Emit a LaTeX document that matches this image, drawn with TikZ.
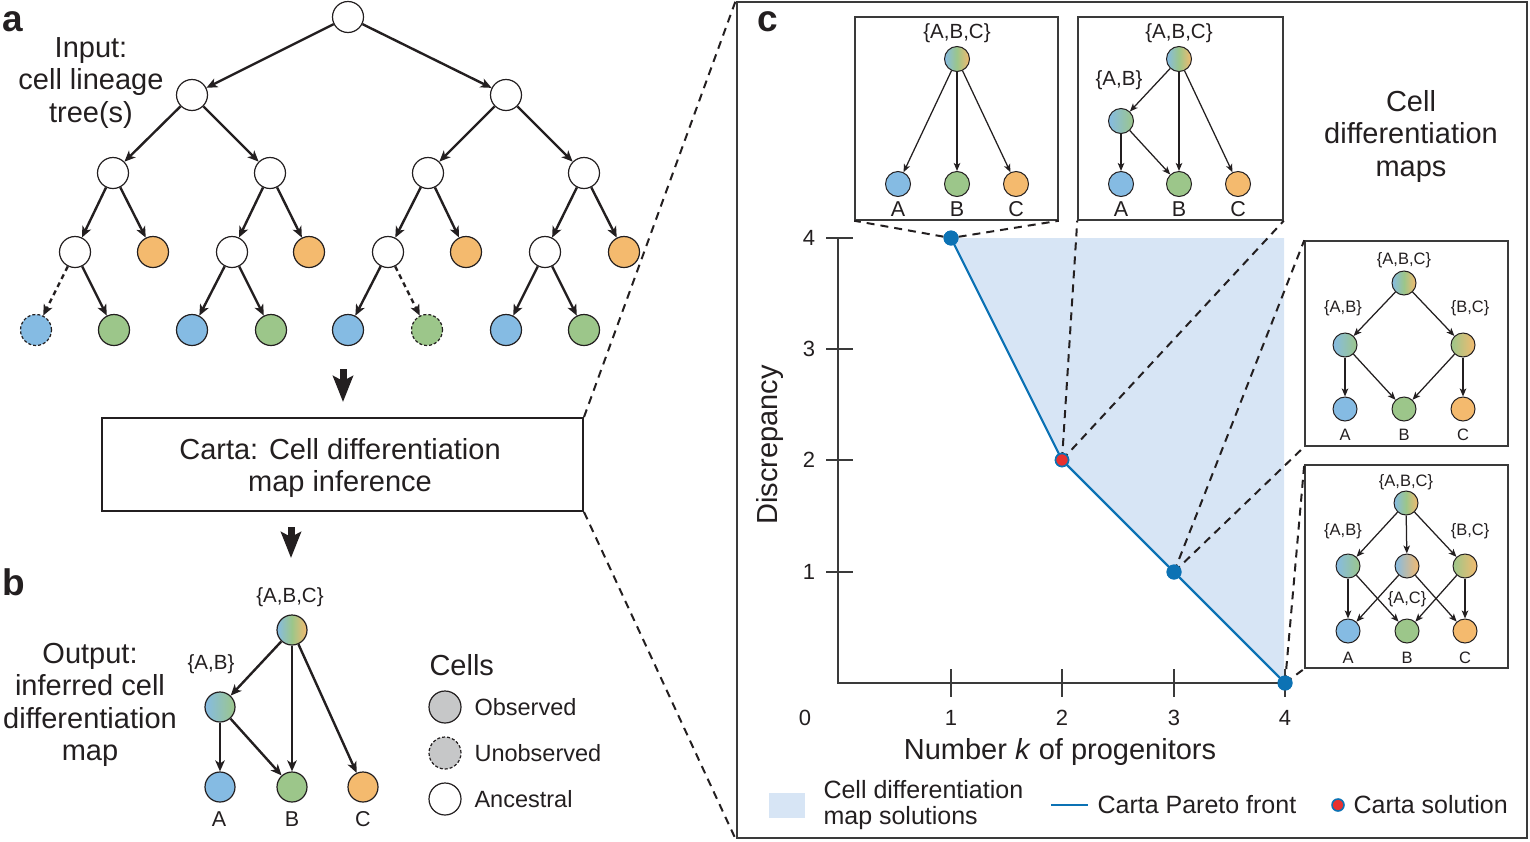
\documentclass[tikz,border=0pt]{standalone}
\usepackage{fontspec}
\setmainfont{Liberation Sans}
\usetikzlibrary{arrows.meta}
\definecolor{dark}{HTML}{231F20}
\definecolor{frame}{HTML}{3A3A3A}
\definecolor{cblue}{HTML}{85BBE3}
\definecolor{cgreen}{HTML}{9CC68A}
\definecolor{corange}{HTML}{F4BA6E}
\definecolor{cgray}{HTML}{C6C7C8}
\definecolor{shadeblue}{HTML}{D7E5F5}
\definecolor{pblue}{HTML}{0C72B4}
\definecolor{pred}{HTML}{E8312F}
\begin{document}
\begin{tikzpicture}[x=1pt,y=-1pt,
  every node/.style={text=dark},
  cnode/.style={circle, draw=dark, line width=1.2pt, inner sep=0pt, minimum size=31pt},
  mid/.style={cnode, minimum size=30pt},
  sm/.style={cnode, minimum size=25pt, line width=1pt},
  xs/.style={cnode, minimum size=24pt, line width=1pt},
  anc/.style={fill=white},
  cb/.style={fill=cblue},
  cg/.style={fill=cgreen},
  co/.style={fill=corange},
  gABC/.style={left color=cblue, right color=corange, middle color=cgreen},
  gAB/.style={left color=cblue, right color=cgreen},
  gBC/.style={left color=cgreen, right color=corange},
  gAC/.style={left color=cblue, right color=corange},
  unob/.style={dash pattern=on 3pt off 2pt},
  tarr/.style={draw=dark, line width=2.4pt, -{Stealth[length=11pt,width=9.5pt,inset=3pt]}},
  tdash/.style={tarr, dash pattern=on 5pt off 4pt},
  iarr/.style={draw=dark, line width=1.25pt, -{Stealth[length=8pt,width=6.5pt,inset=2pt]}},
  bigarrow/.style={draw=dark, line width=7pt, -{Stealth[length=26pt,width=20pt,inset=5pt]}},
  conn/.style={draw=dark, line width=2pt, dash pattern=on 8pt off 6pt},
  inset/.style={draw=frame, line width=1.5pt, fill=white, minimum width=203pt, minimum height=203pt, inner sep=0pt},
  plab/.style={font=\fontsize{37}{37}\selectfont\bfseries},
  ft27/.style={font=\fontsize{29}{32.5}\selectfont, align=center},
  ft24/.style={font=\fontsize{25}{26}\selectfont},
  ft23/.style={font=\fontsize{23.5}{26}\selectfont},
  ft20/.style={font=\fontsize{20.5}{22}\selectfont},
  ftt/.style={font=\fontsize{22}{22}\selectfont},
  ft21/.style={font=\fontsize{21.5}{22}\selectfont},
  ft16/.style={font=\fontsize{16.5}{18}\selectfont},
  pdot/.style={circle, fill=pblue, inner sep=0pt, minimum size=15pt},
]
\useasboundingbox (0,0) rectangle (1530,841);

%================ panel a ================
\node[plab] at (13,22) {a};
\node[ft27] at (91,83) {Input:\\cell lineage\\tree(s)};

\node[cnode,anc] (r) at (348,17) {};
\node[cnode,anc] (l1a) at (192,95) {};
\node[cnode,anc] (l1b) at (506,95) {};
\node[cnode,anc] (l2a) at (113,173) {};
\node[cnode,anc] (l2b) at (270,173) {};
\node[cnode,anc] (l2c) at (428,173) {};
\node[cnode,anc] (l2d) at (584,173) {};
\node[cnode,anc] (l3a) at (75,252) {};
\node[cnode,co]  (l3b) at (153,252) {};
\node[cnode,anc] (l3c) at (232,252) {};
\node[cnode,co]  (l3d) at (309,252) {};
\node[cnode,anc] (l3e) at (388,252) {};
\node[cnode,co]  (l3f) at (466,252) {};
\node[cnode,anc] (l3g) at (545,252) {};
\node[cnode,co]  (l3h) at (624,252) {};
\node[cnode,cb,unob] (l4a) at (36,330) {};
\node[cnode,cg]  (l4b) at (114,330) {};
\node[cnode,cb]  (l4c) at (192,330) {};
\node[cnode,cg]  (l4d) at (271,330) {};
\node[cnode,cb]  (l4e) at (348,330) {};
\node[cnode,cg,unob] (l4f) at (427,330) {};
\node[cnode,cb]  (l4g) at (506,330) {};
\node[cnode,cg]  (l4h) at (584,330) {};

\draw[tarr] (r) -- (l1a);
\draw[tarr] (r) -- (l1b);
\draw[tarr] (l1a) -- (l2a);
\draw[tarr] (l1a) -- (l2b);
\draw[tarr] (l1b) -- (l2c);
\draw[tarr] (l1b) -- (l2d);
\draw[tarr] (l2a) -- (l3a);
\draw[tarr] (l2a) -- (l3b);
\draw[tarr] (l2b) -- (l3c);
\draw[tarr] (l2b) -- (l3d);
\draw[tarr] (l2c) -- (l3e);
\draw[tarr] (l2c) -- (l3f);
\draw[tarr] (l2d) -- (l3g);
\draw[tarr] (l2d) -- (l3h);
\draw[tdash] (l3a) -- (l4a);
\draw[tarr] (l3a) -- (l4b);
\draw[tarr] (l3c) -- (l4c);
\draw[tarr] (l3c) -- (l4d);
\draw[tarr] (l3e) -- (l4e);
\draw[tdash] (l3e) -- (l4f);
\draw[tarr] (l3g) -- (l4g);
\draw[tarr] (l3g) -- (l4h);

% big arrows and Carta box
\coordinate (d1s) at (343,369);
\coordinate (d1e) at (343,402);
\draw[bigarrow] (d1s) -- (d1e);
\node[draw=dark, line width=2pt, minimum width=481pt, minimum height=93pt, inner sep=0pt] (carta) at (342.5,464.5) {};
\node[ft27] at (340,468) {Carta: Cell differentiation\\map inference};
\coordinate (d2s) at (291,527);
\coordinate (d2e) at (291,558);
\draw[bigarrow] (d2s) -- (d2e);

%================ panel b ================
\node[plab] at (14,582) {b};
\node[ft27] at (90,705) {Output:\\inferred cell\\differentiation\\map};

\node[mid,gABC] (bR) at (292,630) {};
\node[mid,gAB] (bAB) at (220,707) {};
\node[mid,cb] (bA) at (220,787) {};
\node[mid,cg] (bB) at (292,787) {};
\node[mid,co] (bC) at (363,787) {};
\node[ft20] at (290,597) {\{A,B,C\}};
\node[ft20] at (211,664) {\{A,B\}};
\node[ft21] at (219,819) {A};
\node[ft21] at (292,819) {B};
\node[ft21] at (363,819) {C};
\draw[tarr] (bR) -- (bAB);
\draw[tarr] (bR) -- (bB);
\draw[tarr] (bR) -- (bC);
\draw[tarr] (bAB) -- (bA);
\draw[tarr] (bAB) -- (bB);

% legend
\node[ft27, anchor=west] at (426,665) {Cells};
\node[cnode, minimum size=32pt, fill=cgray] (ob) at (445,707) {};
\node[cnode, minimum size=32pt, fill=cgray, unob] (un) at (445,753) {};
\node[cnode, minimum size=32pt, fill=white] (an) at (445,799) {};
\node[ft23, anchor=west] at (471,707) {Observed};
\node[ft23, anchor=west] at (471,753) {Unobserved};
\node[ft23, anchor=west] at (471,799) {Ancestral};

%================ panel c ================
\node[draw=frame, line width=2.6pt, minimum width=790pt, minimum height=836pt, inner sep=0pt] (framec) at (1132,420) {};
\draw[conn] (carta.north east) -- (framec.north west);
\draw[conn] (carta.south east) -- (framec.south west);
\node[plab] at (768,22) {c};

% shaded region
\fill[shadeblue] (951,238) -- (1284,238) -- (1284,683) -- (1174,572) -- (1062,460) -- cycle;

% insets (nodes for frames)
\node[inset] (m1) at (956.5,118.5) {};
\node[inset, minimum width=205pt] (m2) at (1180.5,118.5) {};
\node[inset, minimum height=205pt] (m3) at (1406.5,343.5) {};
\node[inset] (m4) at (1406.5,566.5) {};

% Pareto points
\node[pdot] (p1) at (951,238) {};
\node[pdot, fill=pred, draw=pblue, line width=1.6pt, minimum size=13pt] (p2) at (1062,460) {};
\node[pdot] (p3) at (1174,572) {};
\node[pdot] (p4) at (1285,683) {};

% dashed connectors
\draw[conn] (p1) -- (m1.south west);
\draw[conn] (p1) -- (m1.south east);
\draw[conn] (p2.center) -- (m2.south west);
\draw[conn] (p2.center) -- (m2.south east);
\draw[conn] (p3.center) -- (m3.north west);
\draw[conn] (p3.center) -- (m3.south west);
\draw[conn] (p4.center) -- (m4.north west);
\draw[conn] (p4.center) -- (m4.south west);

% axes
\draw[draw=frame, line width=1.6pt] (838,238) -- (838,683) -- (1285,683);
\foreach \yy/\lab in {238/4,349/3,460/2,572/1}{
  \draw[draw=frame, line width=1.6pt] (826,\yy) -- (853,\yy);
  \node[ftt] at (809,\yy) {\lab};
}
\foreach \xx/\lab in {951/1,1062/2,1174/3,1285/4}{
  \draw[draw=frame, line width=1.6pt] (\xx,669) -- (\xx,697);
  \node[ftt] at (\xx,718) {\lab};
}
\node[ftt] at (805,718) {0};
\node[ft27, rotate=90] at (770,445) {Discrepancy};
\node[ft27] at (1060,752) {Number \textit{k} of progenitors};

% Pareto front
\draw[pblue, line width=2.2pt] (p1.center) -- (p2.center) -- (p3.center) -- (p4.center);
\node[pdot] at (p1) {};
\node[pdot, fill=pred, draw=pblue, line width=1.6pt, minimum size=13pt] at (p2) {};
\node[pdot] at (p3) {};
\node[pdot] at (p4) {};

\node[ft27] at (1411,136) {Cell\\differentiation\\maps};

% inset 1
\node[sm,gABC] (aR) at (957,59) {};
\node[sm,cb] (aA) at (898,184) {};
\node[sm,cg] (aB) at (957,184) {};
\node[sm,co] (aC) at (1016,184) {};
\node[ft20] at (957,33) {\{A,B,C\}};
\node[ft21] at (898,209) {A};
\node[ft21] at (957,209) {B};
\node[ft21] at (1016,209) {C};
\draw[iarr] (aR) -- (aA);
\draw[iarr] (aR) -- (aB);
\draw[iarr] (aR) -- (aC);

% inset 2
\node[sm,gABC] (cR) at (1179,59) {};
\node[sm,gAB] (cAB) at (1121,121) {};
\node[sm,cb] (cA) at (1121,184) {};
\node[sm,cg] (cB) at (1179,184) {};
\node[sm,co] (cC) at (1238,184) {};
\node[ft20] at (1179,33) {\{A,B,C\}};
\node[ft20] at (1119,80) {\{A,B\}};
\node[ft21] at (1121,209) {A};
\node[ft21] at (1179,209) {B};
\node[ft21] at (1238,209) {C};
\draw[iarr] (cR) -- (cAB);
\draw[iarr] (cR) -- (cB);
\draw[iarr] (cR) -- (cC);
\draw[iarr] (cAB) -- (cA);
\draw[iarr] (cAB) -- (cB);

% inset 3
\node[xs,gABC] (eR) at (1404,283) {};
\node[xs,gAB] (eAB) at (1345,345) {};
\node[xs,gBC] (eBC) at (1463,345) {};
\node[xs,cb] (eA) at (1345,409) {};
\node[xs,cg] (eB) at (1404,409) {};
\node[xs,co] (eC) at (1463,409) {};
\node[ft16] at (1404,260) {\{A,B,C\}};
\node[ft16] at (1343,308) {\{A,B\}};
\node[ft16] at (1470,308) {\{B,C\}};
\node[ft16] at (1345,435) {A};
\node[ft16] at (1404,435) {B};
\node[ft16] at (1463,435) {C};
\draw[iarr] (eR) -- (eAB);
\draw[iarr] (eR) -- (eBC);
\draw[iarr] (eAB) -- (eA);
\draw[iarr] (eAB) -- (eB);
\draw[iarr] (eBC) -- (eB);
\draw[iarr] (eBC) -- (eC);

% inset 4
\node[xs,gABC] (fR) at (1406,503) {};
\node[xs,gAB] (fAB) at (1348,566) {};
\node[xs,gAC] (fAC) at (1407,566) {};
\node[xs,gBC] (fBC) at (1465,566) {};
\node[xs,cb] (fA) at (1348,631) {};
\node[xs,cg] (fB) at (1407,631) {};
\node[xs,co] (fC) at (1465,631) {};
\node[ft16] at (1406,482) {\{A,B,C\}};
\node[ft16] at (1343,531) {\{A,B\}};
\node[ft16] at (1470,531) {\{B,C\}};
\node[ft16] at (1407,599) {\{A,C\}};
\node[ft16] at (1348,658) {A};
\node[ft16] at (1407,658) {B};
\node[ft16] at (1465,658) {C};
\draw[iarr] (fR) -- (fAB);
\draw[iarr] (fR) -- (fAC);
\draw[iarr] (fR) -- (fBC);
\draw[iarr] (fAB) -- (fA);
\draw[iarr] (fAB) -- (fB);
\draw[iarr] (fAC) -- (fA);
\draw[iarr] (fAC) -- (fC);
\draw[iarr] (fBC) -- (fB);
\draw[iarr] (fBC) -- (fC);

% legend
\fill[shadeblue] (769,793) rectangle (805,818);
\node[ft24, anchor=west, align=left] at (820,805) {Cell differentiation\\map solutions};
\coordinate (lg1) at (1051,805);
\coordinate (lg2) at (1088,805);
\draw[pblue, line width=2pt] (lg1) -- (lg2);
\node[ft24, anchor=west] at (1094,805) {Carta Pareto front};
\node[pdot, fill=pred, draw=pblue, line width=1.6pt, minimum size=12pt] (lgdot) at (1338,805) {};
\node[ft24, anchor=west] at (1350,805) {Carta solution};
\end{tikzpicture}
\end{document}
